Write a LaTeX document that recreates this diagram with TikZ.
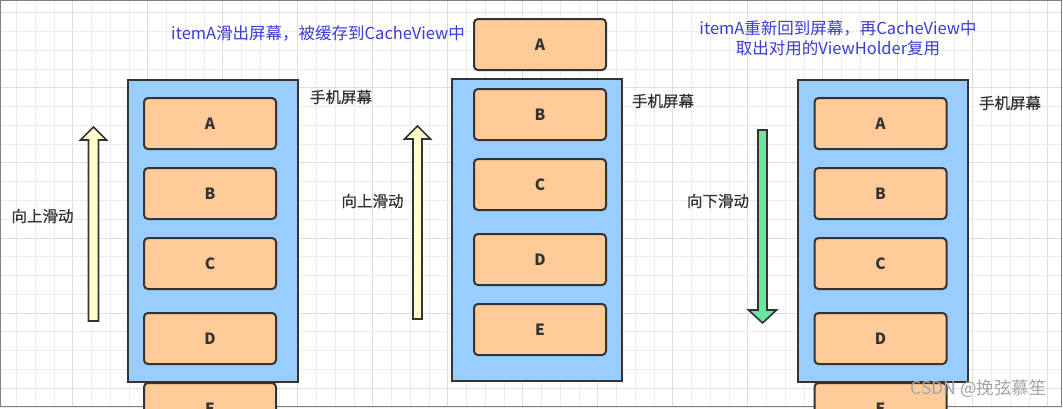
\documentclass[tikz,border=0pt]{standalone}
\usepackage{fontspec}
\setmainfont{Noto Sans CJK SC}
\definecolor{edge}{RGB}{51,51,51}
\definecolor{peach}{RGB}{255,204,153}
\definecolor{skyb}{RGB}{153,204,255}
\definecolor{cream}{RGB}{255,255,204}
\definecolor{mint}{RGB}{102,232,160}
\definecolor{titleblue}{RGB}{60,60,210}
\definecolor{gridminor}{RGB}{236,236,236}
\definecolor{gridmajor}{RGB}{222,222,222}
\definecolor{wm}{RGB}{165,165,165}
\tikzset{
  item/.style={draw=edge, line width=2pt, fill=peach, rounded corners=4pt,
    minimum width=132pt, minimum height=51pt, inner sep=0pt,
    font=\bfseries\fontsize{15.5}{15.5}\selectfont, text=edge},
  screen/.style={draw=edge, line width=2pt, fill=skyb,
    minimum width=170pt, minimum height=302pt, inner sep=0pt},
  lbl/.style={font=\fontsize{15.5}{15.5}\selectfont\addfontfeature{FakeBold=0.6}, text=edge, inner sep=0pt},
  ttl/.style={font=\fontsize{16.5}{20}\selectfont, text=titleblue, inner sep=0pt, align=center},
  blockarrow/.style={draw=edge, line width=1.6pt, line join=miter},
}
\begin{document}
\begin{tikzpicture}[x=1pt,y=-1pt]
\useasboundingbox (0,0) rectangle (1063,408);
\clip (0,0) rectangle (1063,408);
\fill[white] (0,0) rectangle (1063,408);
% grid
\foreach \k in {0,...,56} {
  \pgfmathsetmacro{\xx}{16.7+18.75*\k}
  \pgfmathtruncatemacro{\m}{mod(\k+1,4)}
  \ifnum\m=0 \draw[gridmajor,line width=1pt] (\xx,0) -- (\xx,408);
  \else \draw[gridminor,line width=1pt] (\xx,0) -- (\xx,408); \fi
}
\foreach \k in {0,...,21} {
  \pgfmathsetmacro{\yy}{12.7+18.78*\k}
  \pgfmathtruncatemacro{\m}{mod(\k,4)}
  \ifnum\m=0 \draw[gridmajor,line width=1pt] (0,\yy) -- (1063,\yy);
  \else \draw[gridminor,line width=1pt] (0,\yy) -- (1063,\yy); \fi
}
% frame
\draw[gray,line width=1.2pt] (0.6,0.6) rectangle (1061.4,406.8);

% ---------- panel 1 ----------
\node[screen] (s1) at (213,231) {};
\node[item] (a1) at (210,123.5) {A};
\node[item] (b1) at (210,193.5) {B};
\node[item] (c1) at (210,263.5) {C};
\node[item] (d1) at (210,338.5) {D};
\node[item] (e1) at (210,408.5) {E};
\draw[blockarrow, fill=cream] (88.5,321) -- (88.5,140) -- (80.5,140) -- (93.5,127) -- (106.5,140) -- (98.5,140) -- (98.5,321) -- cycle;
\node[lbl] (u1) at (42.5,216) {向上滑动};
\node[lbl] (p1) at (341,97) {手机屏幕};
\node[ttl] (t1) at (318,33) {itemA滑出屏幕，被缓存到CacheView中};

% ---------- panel 2 ----------
\node[screen] (s2) at (536.5,230) {};
\node[item] (a2) at (540,44.5) {A};
\node[item] (b2) at (540,114.5) {B};
\node[item] (c2) at (540,184.5) {C};
\node[item] (d2) at (540,259.5) {D};
\node[item] (e2) at (540,329.5) {E};
\draw[blockarrow, fill=cream] (413,319) -- (413,139) -- (404.5,139) -- (417.5,126) -- (430.5,139) -- (422,139) -- (422,319) -- cycle;
\node[lbl] (u2) at (372.5,201) {向上滑动};
\node[lbl] (p2) at (663,101) {手机屏幕};

% ---------- panel 3 ----------
\node[screen] (s3) at (883,231) {};
\node[item] (a3) at (880.5,123.5) {A};
\node[item] (b3) at (880.5,193.5) {B};
\node[item] (c3) at (880.5,263.5) {C};
\node[item] (d3) at (880.5,338.5) {D};
\node[item] (e3) at (880.5,408.5) {E};
\draw[blockarrow, fill=mint] (758,130) -- (758,310) -- (748.5,310) -- (762.5,323) -- (776.5,310) -- (767,310) -- (767,130) -- cycle;
\node[lbl] (u3) at (718,201) {向下滑动};
\node[lbl] (p3) at (1010,103) {手机屏幕};
\node[ttl] (t3) at (838,38) {itemA重新回到屏幕，再CacheView中\\取出对用的ViewHolder复用};

% watermark
\node[font=\fontsize{17.5}{17.5}\selectfont, text=wm, inner sep=0pt] (wmk) at (978.5,389) {CSDN @挽弦慕笙};
\end{tikzpicture}
\end{document}
